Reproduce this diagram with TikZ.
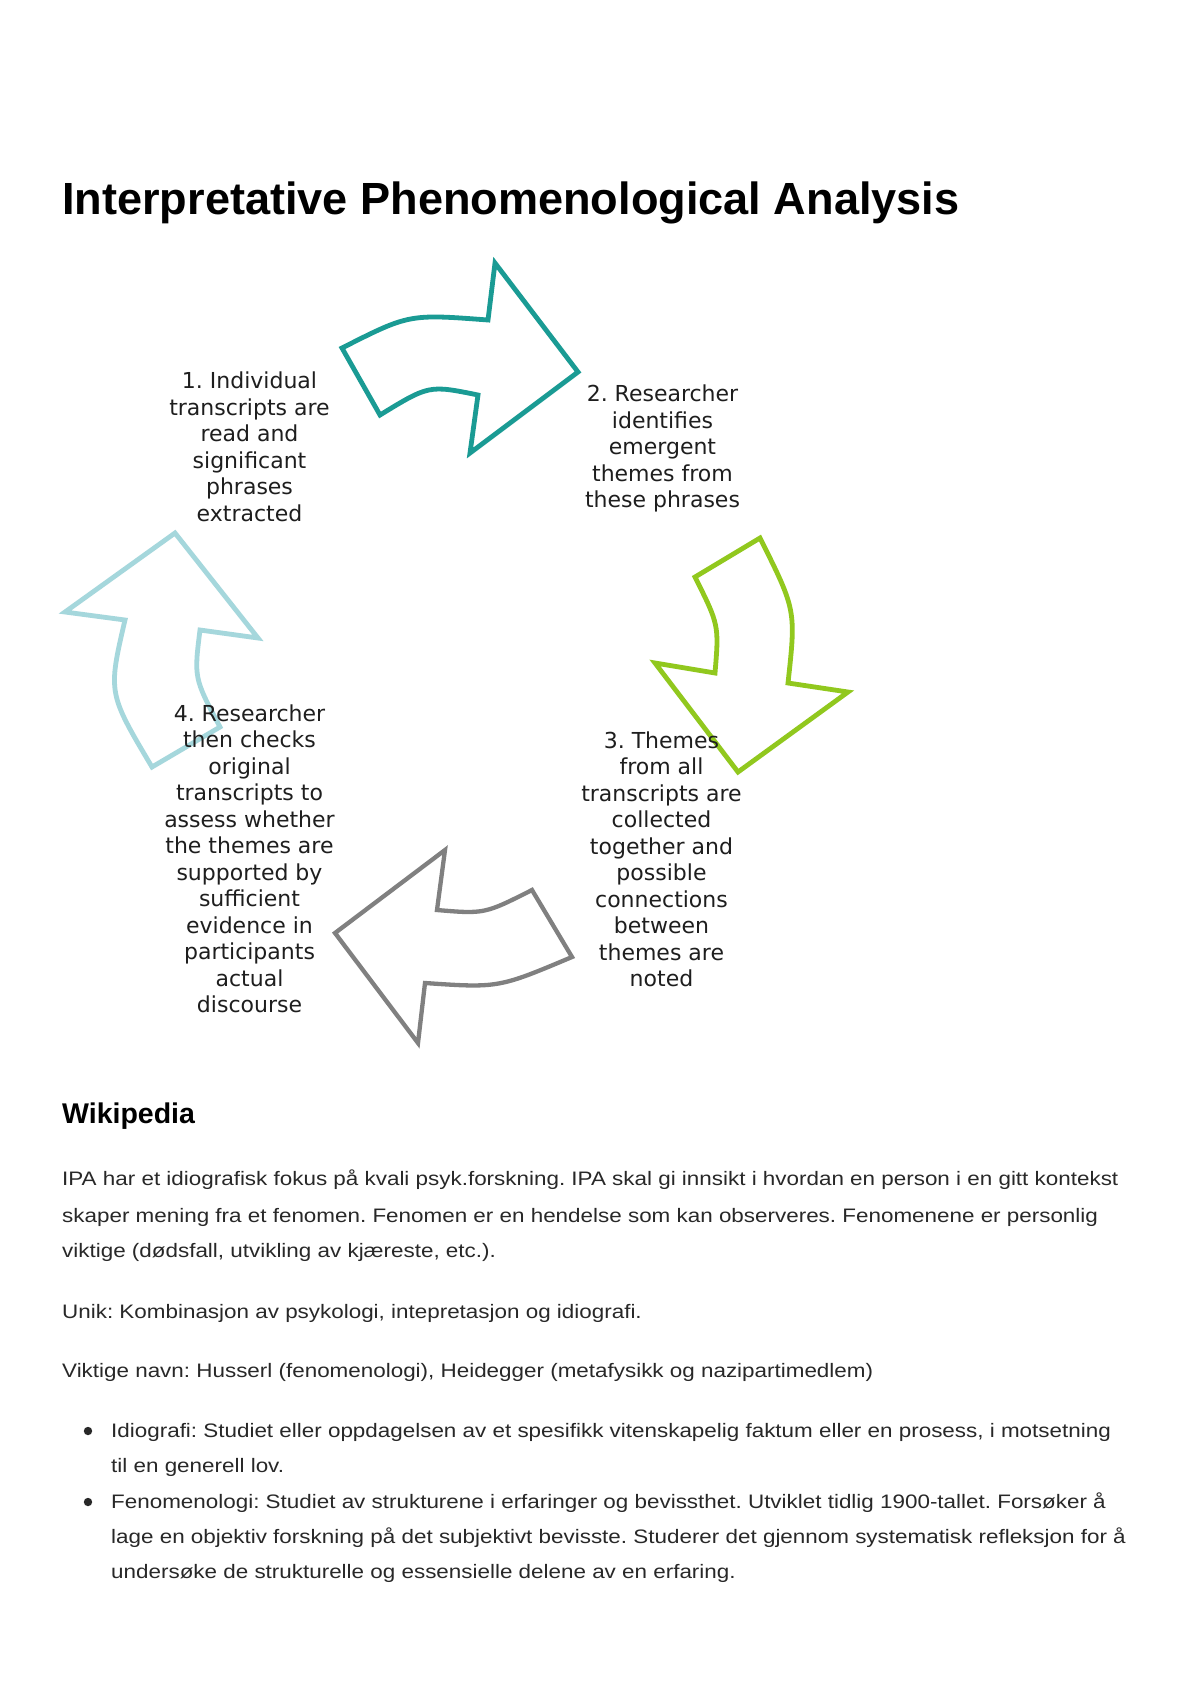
\documentclass[tikz,border=0pt]{standalone}
\usepackage{fontspec}
\setmainfont{Liberation Sans}
\newfontfamily\diagfont{DejaVu Sans}
\newfontfamily\notefont[FakeStretch=1.15]{Liberation Sans}
\usepackage{xcolor}
\usepackage{tikz}
\usetikzlibrary{positioning}
\frenchspacing

\definecolor{ipateal}{RGB}{26,155,148}
\definecolor{ipagreen}{RGB}{145,200,30}
\definecolor{ipablue}{RGB}{165,215,220}
\definecolor{ipagray}{RGB}{128,128,128}
\definecolor{labeltext}{RGB}{30,30,30}
\definecolor{bodytext}{RGB}{40,40,40}

\begin{document}
\begin{tikzpicture}[x=1pt, y=-1pt,
    cyclearrow/.style={line width=4.8pt, line join=miter, fill=white},
    steplabel/.style={inner sep=0pt, align=center, text=labeltext, font=\diagfont\fontsize{22}{26.5}\selectfont},
    bodyline/.style={inner sep=0pt, anchor=base west, text=bodytext, font=\notefont\fontsize{19.5}{22}\selectfont}]
    \useasboundingbox[fill=white] (0,0) rectangle (1200,1698);

    % Title
    \node[inner sep=0pt, anchor=base west, font=\bfseries\fontsize{45.1}{50}\selectfont] (title) at (62,214) {Interpretative Phenomenological Analysis};

    % Step 1 to 2
    \draw[cyclearrow, draw=ipateal] (342,348) .. controls (409,314) .. (488,320) -- (495,263) -- (578,372) -- (470,453) -- (478,395) .. controls (429,385) .. (380,415) -- cycle;

    % Step 2 to 3
    \draw[cyclearrow, draw=ipagreen] (695,577) -- (760,538) .. controls (796,610) .. (788,683) -- (848,692) -- (738,772) -- (655,663) -- (715,673) .. controls (719,625) .. (695,577) -- cycle;

    % Step 3 to 4
    \draw[cyclearrow, draw=ipagray, line width=4.3pt] (335,933) -- (445,850) -- (437,910) .. controls (484.5,914) .. (532,890) -- (572,957) .. controls (498.5,988) .. (425,983) -- (418,1043) -- cycle;

    % Step 4 to 1
    \draw[cyclearrow, draw=ipablue] (175,533) -- (258,638) -- (200,630) .. controls (194,678) .. (220,727) -- (152,767) .. controls (108,693) .. (125,620) -- (65,612) -- cycle;

    % Step texts
    \node[steplabel] (stepone) at (249.5,447) {1. Individual\\transcripts are\\read and\\significant\\phrases\\extracted};
    \node[steplabel] (steptwo) at (662.5,448.5) {2. Researcher\\identifies\\emergent\\themes from\\these phrases};
    \node[steplabel] (stepthree) at (661.5,859.5) {3. Themes\\from all\\transcripts are\\collected\\together and\\possible\\connections\\between\\themes are\\noted};
    \node[steplabel] (stepfour) at (249.5,859) {4. Researcher\\then checks\\original\\transcripts to\\assess whether\\the themes are\\supported by\\sufficient\\evidence in\\participants\\actual\\discourse};

    % Wikipedia notes
    \node[inner sep=0pt, anchor=base west, font=\bfseries\fontsize{28.5}{32}\selectfont] (wiki) at (62,1123) {Wikipedia};
    \node[bodyline] (ipaa) at (62,1185) {IPA har et idiografisk fokus på kvali psyk.forskning. IPA skal gi innsikt i hvordan en person i en gitt kontekst};
    \node[bodyline] (ipab) at (62,1222) {skaper mening fra et fenomen. Fenomen er en hendelse som kan observeres. Fenomenene er personlig};
    \node[bodyline] (ipac) at (62,1257) {viktige (dødsfall, utvikling av kjæreste, etc.).};
    \node[bodyline] (unik) at (62,1318) {Unik: Kombinasjon av psykologi, intepretasjon og idiografi.};
    \node[bodyline] (navn) at (62,1377) {Viktige navn: Husserl (fenomenologi), Heidegger (metafysikk og nazipartimedlem)};

    % Bullets
    \fill[bodytext] (88,1431) circle (4.2);
    \node[bodyline] (idioa) at (111,1437) {Idiografi: Studiet eller oppdagelsen av et spesifikk vitenskapelig faktum eller en prosess, i motsetning};
    \node[bodyline] (idiob) at (111,1472) {til en generell lov.};
    \fill[bodytext] (88,1502) circle (4.2);
    \node[bodyline] (fenoa) at (111,1508) {Fenomenologi: Studiet av strukturene i erfaringer og bevissthet. Utviklet tidlig 1900-tallet. Forsøker å};
    \node[bodyline] (fenob) at (111,1543) {lage en objektiv forskning på det subjektivt bevisste. Studerer det gjennom systematisk refleksjon for å};
    \node[bodyline] (fenoc) at (111,1578) {undersøke de strukturelle og essensielle delene av en erfaring.};
\end{tikzpicture}
\end{document}
